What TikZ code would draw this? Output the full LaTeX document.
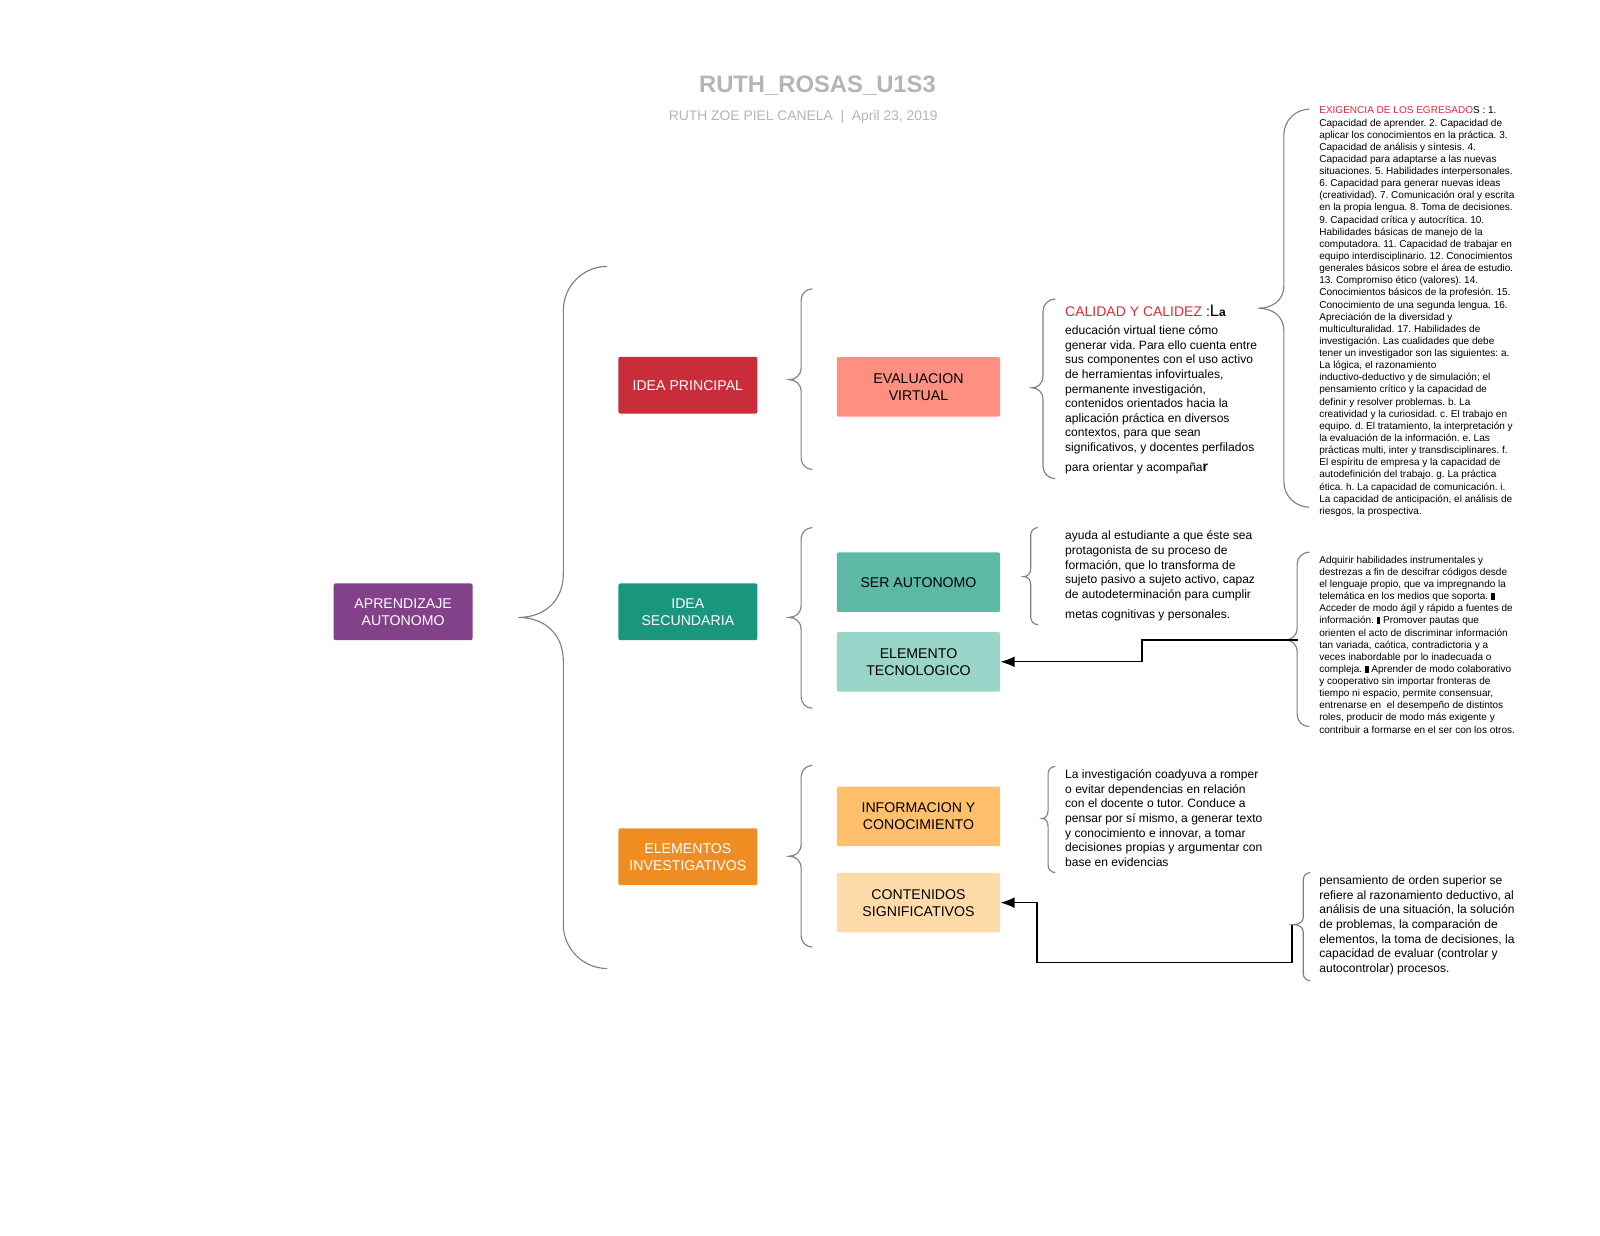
\documentclass[tikz,border=0pt]{standalone}
\usepackage{fontspec}
\setmainfont{Liberation Sans}
\usetikzlibrary{arrows.meta}
\definecolor{cPurple}{HTML}{83418A}
\definecolor{cRed}{HTML}{C92D39}
\definecolor{cTeal}{HTML}{19967D}
\definecolor{cOrange}{HTML}{EF8D22}
\definecolor{cSalmon}{HTML}{FF8F80}
\definecolor{cTealMid}{HTML}{5CB9A6}
\definecolor{cTealLight}{HTML}{9AD5C9}
\definecolor{cAmber}{HTML}{FFBF6B}
\definecolor{cAmberLight}{HTML}{FFDBA9}
\definecolor{cTitle}{HTML}{B5B5B5}
\definecolor{cLabel}{HTML}{DC2A3C}
\definecolor{cBrace}{HTML}{808080}
\newcommand{\brk}[7]{% tip x, mid y, spine x, end x, top y, bottom y, mid radius
  \pgfmathsetmacro{\rtop}{#4-#3}
  \draw[bracket] (#4,#5) .. controls ({#3+0.45*\rtop},#5) and (#3,{#5+0.45*\rtop}) .. (#3,{#5+\rtop})
    -- (#3,{#2-#7}) .. controls (#3,{#2-0.35*#7}) and ({#3-0.45*(#3-#1)},#2) .. (#1,#2)
    .. controls ({#3-0.45*(#3-#1)},#2) and (#3,{#2+0.35*#7}) .. (#3,{#2+#7})
    -- (#3,{#6-\rtop}) .. controls (#3,{#6-0.45*\rtop}) and ({#3+0.45*\rtop},#6) .. (#4,#6);
}
\newcommand{\blk}{\rule[-0.02em]{0.36em}{0.68em}}
\tikzset{
  bracket/.style={draw=cBrace,line width=0.85pt},
  smallbox/.style={rounded corners=1.5pt,inner sep=0pt,minimum width=104.2pt,minimum height=42.6pt,align=center,text=white,
    font=\fontsize{10.6}{12.7}\selectfont},
  bigbox/.style={rounded corners=1.5pt,inner sep=0pt,minimum width=122.6pt,minimum height=44.6pt,align=center,text=black,
    font=\fontsize{10.6}{12.7}\selectfont},
  bodytext/.style={anchor=north west,inner sep=0pt,align=left,text=black,font=\frenchspacing\fontsize{9.05}{10.95}\selectfont},
  tinytext/.style={anchor=north west,inner sep=0pt,align=left,text=black,font=\frenchspacing\fontsize{7.52}{9.1}\selectfont},
  elbow/.style={draw=black,line width=0.95pt,-{Latex[length=10.5pt,width=8pt]}},
}
\begin{document}
\begin{tikzpicture}[x=0.7654pt,y=-0.7654pt]
\useasboundingbox[fill=white] (0,0) rectangle (1567.8,1211.1);

\node[text=cTitle,font=\bfseries\fontsize{17.85}{20}\selectfont] (title) at (801,84) {RUTH\_ROSAS\_U1S3};
\node[text=cTitle,font=\fontsize{10.4}{12}\selectfont] (sub) at (787,115) {RUTH ZOE PIEL CANELA\ \ |\ \ April 23, 2019};

\node[smallbox,fill=cPurple] (root) at (395,599.5) {APRENDIZAJE\\AUTONOMO};
\node[smallbox,fill=cRed] (ip) at (674,377.5) {IDEA PRINCIPAL};
\node[smallbox,fill=cTeal] (is) at (674,599.5) {IDEA\\SECUNDARIA};
\node[smallbox,fill=cOrange] (ei) at (674,839.5) {ELEMENTOS\\INVESTIGATIVOS};
\node[bigbox,fill=cSalmon] (ev) at (900,379) {EVALUACION\\VIRTUAL};
\node[bigbox,fill=cTealMid] (sa) at (900,570.5) {SER AUTONOMO};
\node[bigbox,fill=cTealLight] (et) at (900,648.5) {ELEMENTO\\TECNOLOGICO};
\node[bigbox,fill=cAmber] (ic) at (900,800) {INFORMACION Y\\CONOCIMIENTO};
\node[bigbox,fill=cAmberLight] (cs) at (900,884.5) {CONTENIDOS\\SIGNIFICATIVOS};

\brk{508}{605}{552}{595}{261}{949}{43}
\brk{773}{372}{785}{796}{283}{460}{12}
\brk{773}{605}{785}{796}{517}{694}{12}
\brk{773}{839}{785}{796}{750}{928}{12}
\brk{1011}{380}{1022}{1034}{293}{469}{12}
\brk{1003}{565}{1010}{1017}{517}{612}{8}
\brk{1021}{802}{1027}{1034}{751}{855}{8}
\brk{1233}{302}{1258}{1283}{107}{497}{22}
\brk{1259}{627}{1271}{1283}{541}{712}{12}
\brk{1267}{906}{1277}{1284}{855}{961}{7}

\node[bodytext] (cal) at (1043.5,299) {{\color{cLabel}\fontsize{10.5}{11}\selectfont CALIDAD Y CALIDEZ }{\fontsize{10.5}{11}\selectfont :}{\fontsize{12.5}{11}\selectfont L}{\bfseries a}};
\node[bodytext] (calb) at (1043.5,319) {educación virtual tiene cómo\\generar vida. Para ello cuenta entre\\sus componentes con el uso activo\\de herramientas infovirtuales,\\permanente investigación,\\contenidos orientados hacia la\\aplicación práctica en diversos\\contextos, para que sean\\significativos, y docentes perfilados\\[4pt]para orientar y acompaña{\bfseries\fontsize{10.5}{11}\selectfont r}};
\node[bodytext] (sat) at (1043.5,520) {ayuda al estudiante a que éste sea\\protagonista de su proceso de\\formación, que lo transforma de\\sujeto pasivo a sujeto activo, capaz\\de autodeterminación para cumplir\\[4.5pt]metas cognitivas y personales.};
\node[bodytext] (ict) at (1043.5,754) {La investigación coadyuva a romper\\o evitar dependencias en relación\\con el docente o tutor. Conduce a\\pensar por sí mismo, a generar texto\\y conocimiento e innovar, a tomar\\decisiones propias y argumentar con\\base en evidencias};
\node[bodytext] (cst) at (1292.5,858) {pensamiento de orden superior se\\refiere al razonamiento deductivo, al\\análisis de una situación, la solución\\de problemas, la comparación de\\elementos, la toma de decisiones, la\\capacidad de evaluar (controlar y\\autocontrolar) procesos.};
\node[tinytext] (exi) at (1292.5,104.5) {{\color{cLabel}EXIGENCIA DE LOS EGRESADO}S : 1.\\Capacidad de aprender. 2. Capacidad de\\aplicar los conocimientos en la práctica. 3.\\Capacidad de análisis y síntesis. 4.\\Capacidad para adaptarse a las nuevas\\situaciones. 5. Habilidades interpersonales.\\6. Capacidad para generar nuevas ideas\\(creatividad). 7. Comunicación oral y escrita\\en la propia lengua. 8. Toma de decisiones.\\9. Capacidad crítica y autocrítica. 10.\\Habilidades básicas de manejo de la\\computadora. 11. Capacidad de trabajar en\\equipo interdisciplinario. 12. Conocimientos\\generales básicos sobre el área de estudio.\\13. Compromiso ético (valores). 14.\\Conocimientos básicos de la profesión. 15.\\Conocimiento de una segunda lengua. 16.\\Apreciación de la diversidad y\\multiculturalidad. 17. Habilidades de\\investigación. Las cualidades que debe\\tener un investigador son las siguientes: a.\\La lógica, el razonamiento\\inductivo-deductivo y de simulación; el\\pensamiento crítico y la capacidad de\\definir y resolver problemas. b. La\\creatividad y la curiosidad. c. El trabajo en\\equipo. d. El tratamiento, la interpretación y\\la evaluación de la información. e. Las\\prácticas multi, inter y transdisciplinares. f.\\El espíritu de empresa y la capacidad de\\autodefinición del trabajo. g. La práctica\\ética. h. La capacidad de comunicación. i.\\La capacidad de anticipación, el análisis de\\riesgos, la prospectiva.};
\node[tinytext] (adq) at (1292.5,544.5) {Adquirir habilidades instrumentales y\\destrezas a fin de descifrar códigos desde\\el lenguaje propio, que va impregnando la\\telemática en los medios que soporta. \blk\\Acceder de modo ágil y rápido a fuentes de\\información. \blk{} Promover pautas que\\orienten el acto de discriminar información\\tan variada, caótica, contradictoria y a\\veces inabordable por lo inadecuada o\\compleja. \blk{} Aprender de modo colaborativo\\y cooperativo sin importar fronteras de\\tiempo ni espacio, permite consensuar,\\entrenarse en\ \ el desempeño de distintos\\roles, producir de modo más exigente y\\contribuir a formarse en el ser con los otros.};

\coordinate (tipA) at (1272,627);
\coordinate (tipB) at (1266,906);
\draw[elbow] (tipA) -- (1119,627) -- (1119,648.5) -- (et.east);
\draw[elbow] (tipB) -- (1266,943) -- (1016,943) -- (1016,884.5) -- (cs.east);
\end{tikzpicture}
\end{document}
